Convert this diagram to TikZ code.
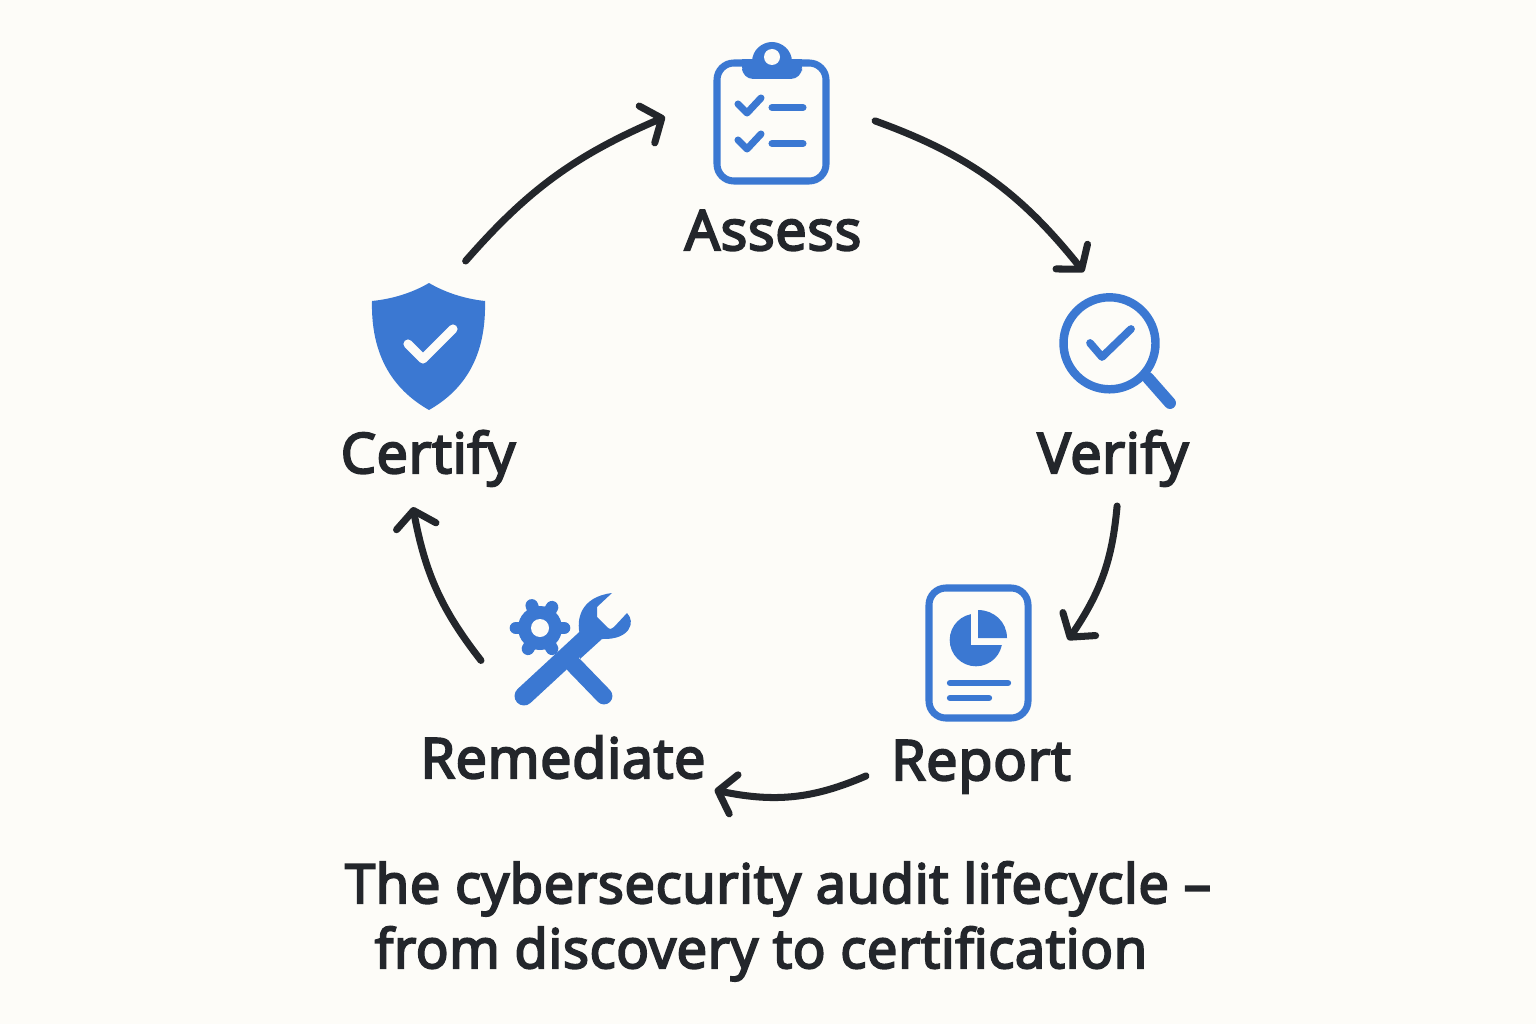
\documentclass[tikz,border=0pt]{standalone}
\usepackage{xcolor}
\usepackage{fontspec}
\usetikzlibrary{arrows.meta,bending}
\newfontfamily\cyclefont{Open Sans}[BoldFont={Open Sans},BoldFeatures={FakeBold=4},LetterSpace=1.5]
\definecolor{auditink}{HTML}{23262B}
\definecolor{auditblue}{HTML}{3B78D2}
\definecolor{auditpaper}{HTML}{FDFCF8}

\begin{document}
\begin{tikzpicture}[x=.025cm,y=-.025cm,
  spot/.style={inner sep=0,outer sep=0},
  flow/.style={draw=auditink,line width=5pt,line cap=round,line join=round,
    -{Straight Barb[length=4mm,width=10mm,line width=5pt,round]}},
  stage/.style={font=\cyclefont\bfseries\fontsize{39.5}{44}\selectfont,text=auditink,inner sep=0,anchor=base},
  caption/.style={font=\cyclefont\bfseries\fontsize{38.5}{44}\selectfont,text=auditink,inner sep=0,anchor=base},
  iconline/.style={draw=auditblue,line cap=round,line join=round,line width=#1},
  iconline/.default=5pt,
  iconfill/.style={fill=auditblue}]
\fill[auditpaper] (0,0) rectangle (1536,1024);
% invisible areas that hold icon and label, the arrows start on their edges
\node[spot,minimum width=5.25cm,minimum height=5.45cm] (assess) at (770,151) {};
\node[spot,minimum width=3.85cm,minimum height=5.85cm] (verify) at (1113,389) {};
\node[spot,minimum width=5.05cm,minimum height=5.25cm] (report) at (967,685) {};
\node[spot,minimum width=5.925cm,minimum height=5cm] (remediate) at (599.5,690) {};
\node[spot,minimum width=4.5cm,minimum height=6.15cm] (certify) at (428,384) {};
% labels
\node[stage] (assesslabel) at (773,250) {Assess};
\node[stage] (verifylabel) at (1113,473) {Verify};
\node[stage] (reportlabel) at (981,780) {Report};
\node[stage] (remediatelabel) at (563,778) {Remediate};
\node[stage] (certifylabel) at (428,473) {Certify};
\node[caption] (captiontop) at (778,903) {The cybersecurity audit lifecycle –};
\node[caption] (captionbottom) at (761,968) {from discovery to certification};
% arrows
\draw[flow] (assess.16.4) to[bend left=16] (verify.104.4);
\draw[flow] (verify.272.4) to[bend left=15] (report.24);
\draw[flow] (report.222.6) to[bend left=18] (remediate.319.8);
\draw[flow] (remediate.166.25) to[bend left=14] (certify.263.5);
\draw[flow] (certify.73.3) to[bend left=13] (assess.162);
% clipboard
\draw[iconline,rounded corners=12] (717,63) rectangle (826,181);
\fill[iconfill] (742,59) rectangle (802,68);
\fill[iconfill,rounded corners=8] (742,60) rectangle (802,79);
\fill[iconfill] (752,62) .. controls (752,50) and (762,42) .. (772,42)
  .. controls (782,42) and (792,50) .. (792,62) -- cycle;
\fill[auditpaper] (772,57) circle (8);
\foreach \y in {0,36}{
  \draw[iconline] (738,104+\y) -- (747,113+\y) -- (761,98+\y);
  \draw[iconline] (772,107.5+\y) -- (803,107.5+\y);
}
% magnifier
\draw[iconline=6pt] (1109.5,343.3) circle (46);
\draw[iconline=8.5pt] (1148,378) -- (1170,403);
\draw[iconline=5.5pt] (1090,343) -- (1102,357) -- (1131,329);
% report sheet
\draw[iconline,rounded corners=12] (929,588) rectangle (1028,718);
\fill[iconfill] (976,640) circle (26.3);
\fill[auditpaper] (971,645) rectangle (1012,608);
\fill[iconfill] (978,638) -- (978,610) .. controls (994,610) and (1007,622) .. (1007,638) -- cycle;
\draw[iconline=4.5pt] (950,683) -- (1008,683);
\draw[iconline=4.5pt] (950,698) -- (989,698);
% gear and wrench
\fill[iconfill] (540,628) circle (22);
\foreach \a in {0,-60,-110,180,120,60}
  \draw[iconline=9pt] (540,628) ++(\a:18) -- ++(\a:6);
\fill[auditpaper] (540,628) circle (9);
\draw[iconline=12pt] (574,665) -- (604,696);
\draw[iconline=13.5pt] (524,696) -- (590,635);
\fill[iconfill] (580,635) .. controls (576,620) and (580,597) .. (612,593)
  -- (597,607) -- (597,617) -- (607,627) .. controls (610,630) and (612,629) .. (614,627) -- (627,613)
  .. controls (636,622) and (630,640) .. (602,639) -- (580,659) -- cycle;
% shield
\fill[iconfill] (429,283) .. controls (412,293) and (392,299) .. (372,301)
  .. controls (371,345) and (385,385) .. (429,410)
  .. controls (473,385) and (486,345) .. (485,301)
  .. controls (466,299) and (446,293) .. (429,283) -- cycle;
\draw[draw=auditpaper,line cap=round,line join=round,line width=6.5pt] (408,344) -- (423,359) -- (453,329);
\end{tikzpicture}
\end{document}
